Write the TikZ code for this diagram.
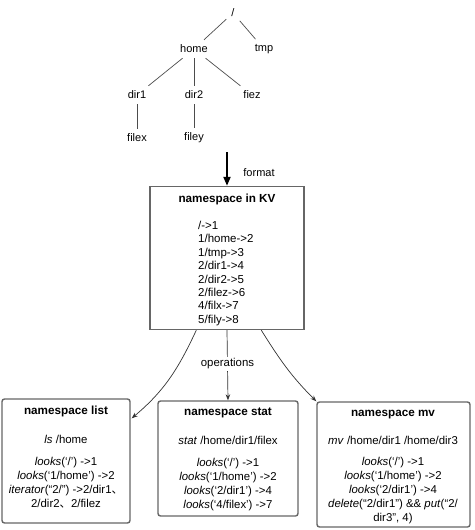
\documentclass[tikz,border=0pt]{standalone}
\usepackage{fontspec}
\setmainfont{Liberation Sans}
\newfontfamily\cjkfont{Noto Sans CJK SC}
\usetikzlibrary{arrows.meta,calc}
\begin{document}
\begin{tikzpicture}[x=1pt,y=-1pt,
  font=\fontsize{11}{13}\selectfont,
  treenode/.style={inner sep=5pt},
  treeedge/.style={draw=black!70, line width=0.7pt},
  boxnode/.style={draw=black!60, line width=1.4pt, inner sep=0pt},
  opbox/.style={boxnode, rounded corners=2.5pt},
  conn/.style={draw=black!80, line width=0.7pt, -{Stealth[length=6pt,width=4.5pt]}},
  titletext/.style={font=\fontsize{11.7}{13}\selectfont\bfseries, inner sep=0pt},
  bodytext/.style={inner sep=0pt, align=center, font=\fontsize{11.4}{14}\selectfont}
]
\useasboundingbox (0,0) rectangle (474,530);

% tree
\node[treenode] (root) at (233,13) {/};
\node[treenode] (home) at (194,49) {home};
\node[treenode] (tmp) at (264,49) {tmp};
\node[treenode] (dir1) at (137,95) {dir1};
\node[treenode] (dir2) at (194,95) {dir2};
\node[treenode] (fiez) at (252,95) {fiez};
\node[treenode] (filex) at (137,138) {filex};
\node[treenode] (filey) at (194,138) {filey};
\draw[treeedge] (root) -- (home);
\draw[treeedge] (root) -- (tmp);
\draw[treeedge] (home) -- (dir1);
\draw[treeedge] (home) -- (dir2);
\draw[treeedge] (home) -- (fiez);
\draw[treeedge] (dir1) -- (filex);
\draw[treeedge] (dir2) -- (filey);

% KV box
\node[boxnode, minimum width=154pt, minimum height=143pt] (kv) at (227,258) {};
\coordinate (fmt) at (227,152);
\draw[line width=2pt, -{Triangle[length=9pt,width=7pt]}] (fmt) -- (kv.north);
\node[inner sep=0pt] (fmtlabel) at (259,173) {format};
\node[titletext] (kvt) at (227,199) {namespace in KV};
\node[inner sep=0pt, align=left, anchor=north west, font=\fontsize{11.5}{13.4}\selectfont] (kvlist) at (198,221)
  {/->1\\1/home->2\\1/tmp->3\\2/dir1->4\\2/dir2->5\\2/filez->6\\4/filx->7\\5/fily->8};

% operation boxes
\node[opbox, minimum width=128pt, minimum height=124pt] (list) at (66,461) {};
\node[opbox, minimum width=140pt, minimum height=115pt] (stat) at (228,458.5) {};
\node[opbox, minimum width=153pt, minimum height=125pt] (mv) at (393.5,464.5) {};

\node[titletext] (listt) at (66,411) {namespace list};
\node[inner sep=0pt, font=\fontsize{11.4}{14}\selectfont] (listcmd) at (66,439) {\textit{ls} /home};
\node[bodytext, anchor=north] (listbody) at (66,457)
  {\textit{looks}(‘/’) ->1\\\textit{looks}(‘1/home’) ->2\\\textit{iterator}(“2/”) ->2/dir1{\cjkfont 、}\\2/dir2{\cjkfont 、}2/filez};

\node[titletext] (statt) at (228,413) {namespace stat};
\node[inner sep=0pt, font=\fontsize{11.4}{14}\selectfont] (statcmd) at (228,440) {\textit{stat} /home/dir1/filex};
\node[bodytext, anchor=north] (statbody) at (228,458)
  {\textit{looks}(‘/’) ->1\\\textit{looks}(‘1/home’) ->2\\\textit{looks}(‘2/dir1’) ->4\\\textit{looks}(‘4/filex’) ->7};

\node[titletext] (mvt) at (393,415) {namespace mv};
\node[inner sep=0pt, font=\fontsize{11.4}{14}\selectfont] (mvcmd) at (393,440) {\textit{mv} /home/dir1 /home/dir3};
\node[bodytext, anchor=north] (mvbody) at (393,457)
  {\textit{looks}(‘/’) ->1\\\textit{looks}(‘1/home’) ->2\\\textit{looks}(‘2/dir1’) ->4\\\textit{delete}(“2/dir1”) \&\& \textit{put}(“2/\\dir3”, 4)};

% connectors
\coordinate (a1) at ($(kv.south west)+(47,0)$);
\coordinate (a1end) at ($(list.north east)+(1,20)$);
\coordinate (a3) at ($(kv.south west)+(112,0)$);
\draw[conn] (a1) to[out=-115,in=40] (a1end);
\draw[conn] (kv.south) -- node[fill=white, inner sep=2pt, pos=0.48, font=\fontsize{11.4}{13}\selectfont] (ops) {operations} (stat.north);
\draw[conn] (a3) to[out=-58,in=135] (mv.north west);
\end{tikzpicture}
\end{document}
